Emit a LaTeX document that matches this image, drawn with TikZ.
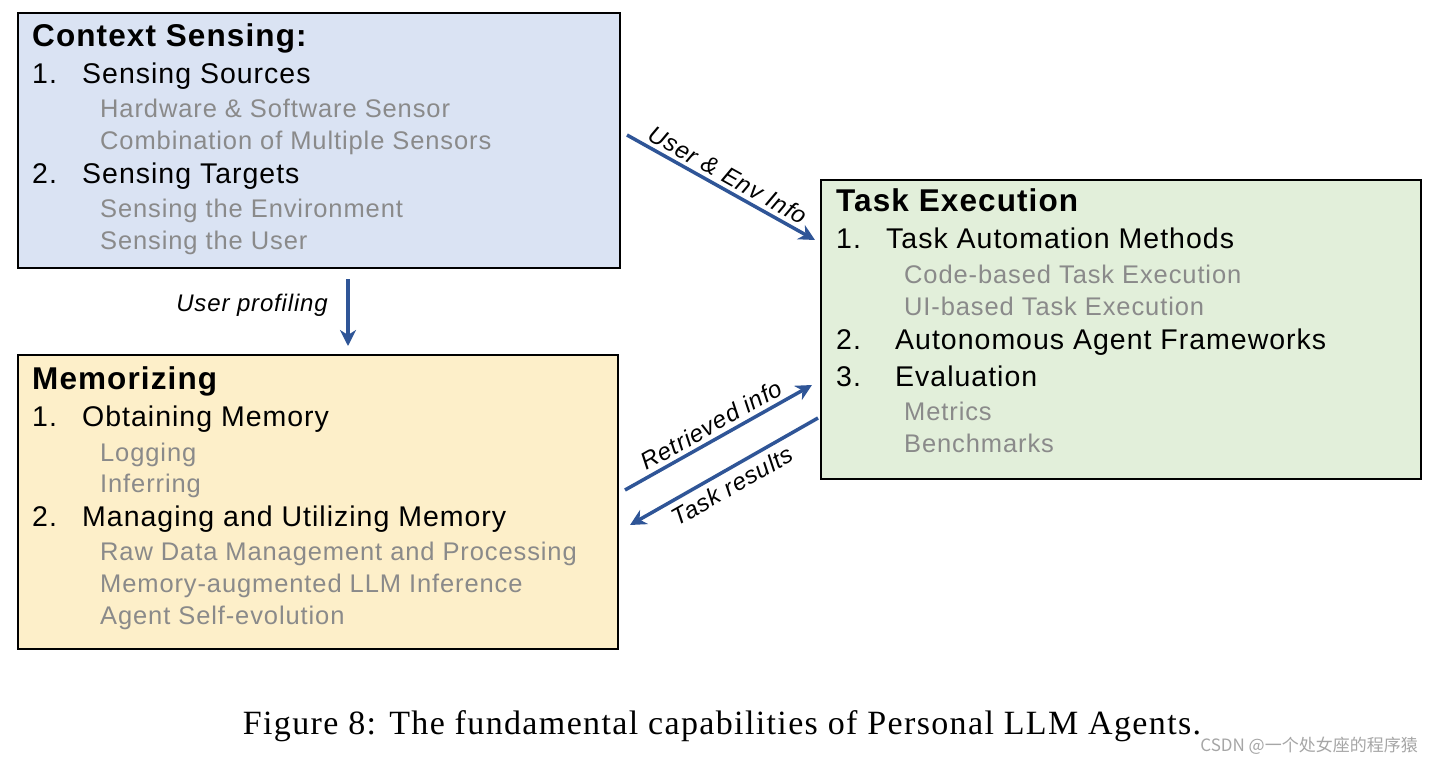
\documentclass[tikz,border=0pt]{standalone}
\usepackage{fontspec}
\setmainfont{Liberation Sans}[LetterSpace=3.5]
\newfontfamily\capfont{Liberation Serif}[LetterSpace=4]
\newfontfamily\cjk{Noto Sans CJK SC}
\usetikzlibrary{arrows.meta}
\definecolor{bluebox}{HTML}{DAE3F3}
\definecolor{yelbox}{HTML}{FDEFC9}
\definecolor{grnbox}{HTML}{E2EFDA}
\definecolor{arr}{HTML}{2F5597}
\definecolor{subg}{HTML}{8A8A8A}
\begin{document}
\begin{tikzpicture}[x=1pt,y=-1pt,
  box/.style={draw=black,line width=2pt},
  txt/.style={anchor=west,inner sep=0,text height=0.72em,text depth=0.22em},
  ttl/.style={txt,font=\fontsize{31.5}{33}\selectfont\bfseries},
  itm/.style={txt,font=\fontsize{28.5}{30}\selectfont},
  sub/.style={txt,text=subg,font=\fontsize{25.5}{27}\selectfont},
  ar/.style={draw=arr,line width=3.5pt,-{Stealth[length=16pt,width=16pt,inset=5pt]}},
  lbl/.style={font=\fontsize{24}{26}\selectfont\itshape,inner sep=4pt}]
\useasboundingbox (0,0) rectangle (1433,764);
\fill[white] (0,0) rectangle (1433,764);
% boxes
\draw[box,fill=bluebox] (18,13) rectangle (620,268);
\draw[box,fill=yelbox] (18,355) rectangle (618,649);
\draw[box,fill=grnbox] (821,180) rectangle (1421,479);
% blue text
\node[ttl] (b0) at (32,44) {Context Sensing:};
\node[itm] (b1n) at (32,81) {1.};
\node[itm] (b1) at (82,81) {Sensing Sources};
\node[sub] (b11) at (100,115) {Hardware \& Software Sensor};
\node[sub] (b12) at (100,147) {Combination of Multiple Sensors};
\node[itm] (b2n) at (32,181) {2.};
\node[itm] (b2) at (82,181) {Sensing Targets};
\node[sub] (b21) at (100,215) {Sensing the Environment};
\node[sub] (b22) at (100,247) {Sensing the User};
% yellow text
\node[ttl] (y0) at (32,387) {Memorizing};
\node[itm] (y1n) at (32,424) {1.};
\node[itm] (y1) at (82,424) {Obtaining Memory};
\node[sub] (y11) at (100,459) {Logging};
\node[sub] (y12) at (100,490) {Inferring};
\node[itm] (y2n) at (32,524) {2.};
\node[itm] (y2) at (82,524) {Managing and Utilizing Memory};
\node[sub] (y21) at (100,558) {Raw Data Management and Processing};
\node[sub] (y22) at (100,590) {Memory-augmented LLM Inference};
\node[sub] (y23) at (100,622) {Agent Self-evolution};
% green text
\node[ttl] (g0) at (836,209) {Task Execution};
\node[itm] (g1n) at (836,246) {1.};
\node[itm] (g1) at (886,246) {Task Automation Methods};
\node[sub] (g11) at (904,281) {Code-based Task Execution};
\node[sub] (g12) at (904,313) {UI-based Task Execution};
\node[itm] (g2n) at (836,347) {2.};
\node[itm] (g2) at (895,347) {Autonomous Agent Frameworks};
\node[itm] (g3n) at (836,384) {3.};
\node[itm] (g3) at (895,384) {Evaluation};
\node[sub] (g31) at (904,418) {Metrics};
\node[sub] (g32) at (904,450) {Benchmarks};
% arrows
\coordinate (a1s) at (627,135); \coordinate (a1e) at (815,240);
\draw[ar] (a1s) -- node[lbl,sloped,above,pos=0.5] (l1) {User \& Env Info} (a1e);
\coordinate (a2s) at (348,279); \coordinate (a2e) at (348,346);
\draw[ar] (a2s) -- (a2e);
\node[lbl,anchor=east] (l2) at (332,305) {User profiling};
\coordinate (a3s) at (625,490); \coordinate (a3e) at (812,385);
\draw[ar] (a3s) -- node[lbl,sloped,above,pos=0.5] (l3) {Retrieved info} (a3e);
\coordinate (a4s) at (818,418); \coordinate (a4e) at (630,525);
\draw[ar] (a4s) -- node[lbl,sloped,below,pos=0.5,inner sep=6pt] (l4) {Task results} (a4e);
% caption
\node[font=\capfont\fontsize{34}{36}\selectfont,inner sep=0] (cap) at (722,726) {Figure 8: The fundamental capabilities of Personal LLM Agents.};
\node[anchor=east,inner sep=0,text=gray!70,font=\cjk\fontsize{17}{19}\selectfont] (wm) at (1418,746) {CSDN @一个处女座的程序猿};
\end{tikzpicture}
\end{document}
